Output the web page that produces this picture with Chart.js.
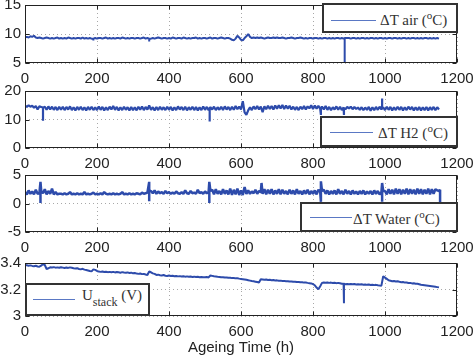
<!DOCTYPE html>
<html><head><meta charset="utf-8">
<script src="https://cdn.jsdelivr.net/npm/chart.js@4.4.0/dist/chart.umd.min.js"></script>
<style>
html,body{margin:0;padding:0;background:#fff;}
#wrap{position:relative;width:474px;height:355px;overflow:hidden;background:#fff;}
canvas{position:absolute;left:0;top:0;}
.leg{position:absolute;background:#fff;border:2px solid #333;box-sizing:border-box;font-family:"Liberation Serif","Times New Roman",serif;font-size:15px;color:#333;}
.leg .ln{position:absolute;height:1px;background:#5a78c4;}
.leg .tx{position:absolute;white-space:nowrap;line-height:15px;}
.leg sup{font-size:11px;vertical-align:0;position:relative;top:-6px;}
.leg sub{font-size:12px;vertical-align:0;position:relative;top:6px;}
</style></head>
<body><div id="wrap">
<canvas id="c1" width="474" height="355"></canvas>
<canvas id="c2" width="474" height="355"></canvas>
<canvas id="c3" width="474" height="355"></canvas>
<canvas id="c4" width="474" height="355"></canvas>
<div class="leg" style="left:322px;top:3px;width:136px;height:30px">
  <div class="ln" style="left:7px;top:15px;width:45px"></div>
  <div class="tx" style="left:56px;top:8px">ΔT air (<sup>o</sup>C)</div>
</div>
<div class="leg" style="left:320px;top:116px;width:138px;height:31px">
  <div class="ln" style="left:8px;top:14px;width:43px"></div>
  <div class="tx" style="left:56px;top:8px">ΔT H2 (<sup>o</sup>C)</div>
</div>
<div class="leg" style="left:300px;top:202px;width:158px;height:30px">
  <div class="ln" style="left:8px;top:13px;width:42px"></div>
  <div class="tx" style="left:51px;top:8px">ΔT Water (<sup>o</sup>C)</div>
</div>
<div class="leg" style="left:25px;top:283px;width:125px;height:33px">
  <div class="ln" style="left:6px;top:14px;width:42px"></div>
  <div class="tx" style="left:55px;top:3px">U<sub>stack</sub> (V)</div>
</div>
</div>
<script>
// sampling grid (hours), every 5 h from 0 to 1150
const hours = [];
for (let h = 0; h <= 1150; h += 5) hours.push(h);

const xTicks = [0, 200, 400, 600, 800, 1000, 1200];
const yTicksAir = [5, 10, 15];
const yTicksH2 = [0, 10, 20];
const yTicksWater = [-5, 0, 5];
const yTicksU = [3, 3.2, 3.4];

const dTair = [
9.4,9.5,9.4,9.6,9.5,9.7,9.4,9.3,9.4,9.3,9.2,9.3,9.4,9.3,9.2,9.3,9.2,9.3,9.4,9.2,
9.3,9.2,9.3,9.2,9.4,9.3,9.2,9.3,9.2,9.3,9.3,9.2,9.4,9.2,9.3,9.2,9.3,9.2,9.2,9.3,
9.2,9.3,9.3,9.2,9.3,9.4,9.2,9.3,9.2,9.3,9.2,9.3,9.3,9.2,9.4,9.3,9.2,9.3,9.2,9.3,
9.3,9.2,9.3,9.3,9.2,9.3,9.4,9.2,9.3,9.2,9.2,9.3,9.2,9.3,9.4,9.3,9.2,9.3,9.3,9.2,
9.3,9.2,9.4,9.3,9.2,9.3,9.3,9.2,9.4,9.3,9.2,9.3,9.2,9.3,9.3,9.4,9.2,9.3,9.2,9.3,
9.3,9.2,9.3,9.4,9.2,9.3,9.3,9.2,9.3,9.4,9.3,9.2,9.3,9.3,9.2,9.0,8.9,9.2,9.7,9.4,
9.0,8.9,9.3,9.6,10.0,9.5,9.3,9.4,9.3,9.4,9.3,9.4,9.3,9.2,9.3,9.4,9.3,9.3,9.4,9.3,
9.4,9.3,9.3,9.4,9.3,9.2,9.3,9.3,9.4,9.3,9.2,9.3,9.3,9.4,9.3,9.2,9.3,9.2,9.3,9.3,
9.2,9.3,9.3,9.2,9.3,9.2,9.3,9.3,9.2,9.3,9.2,9.3,9.2,9.3,9.3,9.2,9.3,9.2,9.3,9.3,
9.3,9.2,9.3,9.3,9.2,9.3,9.2,9.3,9.3,9.2,9.3,9.2,9.3,9.3,9.2,9.3,9.2,9.3,9.3,9.2,
9.3,9.2,9.3,9.3,9.2,9.3,9.3,9.2,9.3,9.2,9.3,9.3,9.2,9.3,9.2,9.3,9.3,9.2,9.3,9.2,
9.3,9.2,9.3,9.3,9.2,9.3,9.2,9.3,9.2,9.3,9.2];
// short excursions: [hour, level, extreme]
const spikesAir = [[190, 9.2, 8.9], [345, 9.2, 8.7], [888, 9.3, 5.0]];

const dTh2 = [
14.9,14.4,15.0,14.5,14.8,14.1,14.7,13.5,14.6,14.4,14.1,14.5,13.4,14.6,13.5,14.5,13.4,14.4,13.3,14.5,
13.4,14.5,13.3,14.4,13.5,14.6,13.3,14.3,13.2,14.4,13.4,14.5,13.3,14.3,13.2,14.4,13.4,14.5,13.3,14.3,
13.3,14.6,13.4,14.4,13.2,14.3,13.3,14.5,13.5,14.7,13.4,14.4,13.2,14.3,13.3,14.5,13.4,14.3,13.2,14.4,
13.3,14.3,13.2,14.5,13.4,14.6,13.3,14.4,13.5,14.9,13.4,14.3,13.2,14.4,13.3,14.5,13.4,14.3,13.3,14.5,
13.4,14.4,13.2,14.3,13.3,14.6,13.5,14.4,13.3,14.5,13.2,14.3,13.4,14.5,13.3,14.4,13.2,14.3,13.3,14.6,
13.4,14.4,13.3,14.3,13.5,14.5,13.3,14.3,13.4,14.5,13.3,14.6,13.5,14.4,13.3,14.5,13.4,14.7,13.6,14.5,
13.5,16.4,12.5,11.6,13.2,14.3,13.3,14.6,13.6,14.7,13.5,14.5,12.6,14.6,13.6,14.8,13.7,14.7,13.5,14.9,
13.8,15.0,13.9,15.1,13.7,14.9,13.8,14.8,13.5,14.5,13.4,14.4,13.3,14.5,13.6,14.7,13.5,14.6,13.9,15.0,
13.7,14.9,13.8,14.8,13.7,14.5,13.5,14.7,13.4,14.4,13.3,14.3,13.5,14.6,13.4,14.5,13.3,14.3,13.6,14.4,
13.9,14.5,13.6,14.4,13.7,14.2,13.4,14.3,13.3,14.2,13.4,14.4,13.1,14.3,13.3,14.4,13.4,14.5,13.5,14.3,
13.3,14.5,13.4,14.4,13.2,14.3,13.3,14.5,13.4,14.4,13.2,14.3,13.3,14.5,13.5,14.4,13.2,14.3,13.3,14.4,
13.2,14.3,13.3,14.4,13.2,14.3,13.4,14.4,13.3,14.3,13.5];
const spikesH2 = [[50, 14.2, 9.6], [513, 14.0, 9.3], [822, 14.1, 11.6], [886, 14.0, 11.6], [992, 13.9, 17.4]];

const dTwater = [
2.0,1.6,2.3,1.7,2.1,1.6,2.4,1.7,1.8,2.2,1.8,2.5,1.6,2.2,1.7,2.6,1.6,2.0,1.6,1.7,
1.7,1.6,1.8,1.6,1.7,2.0,1.6,1.7,1.6,1.8,1.6,1.7,1.6,2.0,1.6,1.7,1.6,1.7,1.9,1.6,
1.7,1.6,1.8,1.6,2.0,1.7,1.6,1.7,1.6,1.8,1.6,1.7,1.6,1.7,2.0,1.6,1.7,1.6,1.8,1.6,
1.7,1.6,1.8,1.7,1.6,1.9,1.7,1.8,1.9,2.1,2.2,1.8,2.3,1.7,2.1,1.8,2.0,1.7,2.2,1.8,
2.0,1.7,1.9,1.7,2.1,1.8,1.7,2.0,1.7,2.3,1.8,1.7,2.2,1.8,1.9,1.7,2.4,1.8,2.0,1.7,
2.1,1.8,2.0,2.2,2.4,1.6,2.5,1.7,2.2,1.6,2.5,1.7,2.3,1.6,2.6,1.5,2.4,1.6,2.6,1.5,
2.3,1.5,2.9,1.7,2.3,1.7,2.1,1.8,2.4,1.7,2.2,2.0,1.7,2.5,1.6,2.4,1.7,2.5,1.6,2.3,
1.7,2.5,1.6,2.4,1.7,2.2,1.6,2.4,1.7,2.3,1.6,2.5,1.7,2.2,1.6,2.3,1.7,2.4,1.6,2.2,
1.7,2.3,1.6,2.4,2.0,2.2,2.4,1.7,2.3,1.6,2.2,1.7,2.3,1.6,2.5,1.7,2.2,1.6,2.4,1.7,
2.2,1.6,2.3,1.7,2.1,1.6,2.2,1.7,2.3,1.6,2.1,1.7,2.2,1.6,2.3,1.7,2.2,1.6,2.0,2.2,
2.2,1.6,2.5,1.7,2.4,1.6,2.6,1.7,2.5,1.6,2.4,1.7,2.6,1.6,2.5,1.7,2.4,1.6,2.6,1.7,
2.5,1.6,2.4,1.7,2.6,1.6,2.5,1.7,2.5,2.3,2.2];
const spikesWater = [[43, 3.8, 0.1], [345, 3.8, 0.4], [512, 3.8, 0.1], [657, 3.6, 1.8],
                     [822, 3.9, 0.3], [992, 3.6, 0.3], [1153, 2.4, 0.0]];

const uStack = [
3.385,3.383,3.380,3.382,3.378,3.376,3.379,3.374,3.372,3.380,3.392,3.385,3.355,3.360,3.368,3.366,3.369,3.365,3.367,3.364,
3.368,3.365,3.362,3.366,3.363,3.367,3.364,3.360,3.358,3.361,3.355,3.352,3.356,3.350,3.347,3.344,3.340,3.337,3.352,3.348,
3.340,3.335,3.333,3.336,3.332,3.334,3.331,3.333,3.330,3.333,3.329,3.332,3.330,3.327,3.331,3.328,3.326,3.329,3.325,3.327,
3.322,3.324,3.320,3.318,3.321,3.316,3.318,3.313,3.309,3.336,3.330,3.322,3.318,3.310,3.312,3.308,3.306,3.309,3.304,3.302,
3.305,3.302,3.304,3.300,3.302,3.299,3.301,3.298,3.300,3.297,3.299,3.296,3.298,3.295,3.297,3.294,3.296,3.293,3.295,3.293,
3.292,3.294,3.291,3.306,3.303,3.300,3.298,3.296,3.295,3.292,3.293,3.290,3.291,3.288,3.289,3.286,3.287,3.284,3.285,3.282,
3.280,3.278,3.276,3.273,3.270,3.267,3.264,3.262,3.259,3.256,3.253,3.278,3.276,3.274,3.275,3.272,3.273,3.270,3.271,3.268,
3.269,3.266,3.267,3.264,3.265,3.262,3.263,3.260,3.261,3.258,3.259,3.256,3.257,3.254,3.255,3.252,3.253,3.250,3.248,3.246,
3.240,3.232,3.215,3.201,3.225,3.250,3.252,3.251,3.253,3.250,3.252,3.249,3.251,3.248,3.250,3.247,3.244,3.243,3.240,3.242,
3.240,3.242,3.239,3.241,3.238,3.240,3.237,3.239,3.236,3.238,3.235,3.237,3.234,3.236,3.233,3.235,3.232,3.230,3.229,3.300,
3.290,3.280,3.270,3.266,3.262,3.264,3.260,3.262,3.258,3.255,3.256,3.252,3.253,3.249,3.250,3.246,3.247,3.243,3.244,3.240,
3.236,3.234,3.232,3.230,3.228,3.226,3.224,3.222,3.220,3.218,3.216];
const spikesU = [[886, 3.243, 3.096]];

const LINE = '#2d4bab';
const GRID = '#a8a8a8';
const TXT = '#222';
const FONT = {family: '"Liberation Sans", Arial, sans-serif', size: 15};
const W = 474, H = 355, RIGHT = 457, YW = 25, AXH = 25;

function buildPoints(values, spikes) {
  const pts = [];
  let s = 0;
  hours.forEach((h, i) => {
    while (s < spikes.length && spikes[s][0] <= h) {
      const [sh, lvl, ext] = spikes[s];
      pts.push({x: sh, y: lvl}, {x: sh, y: ext}, {x: sh, y: lvl});
      s++;
    }
    pts.push({x: h, y: values[i]});
  });
  while (s < spikes.length) {
    const [sh, lvl, ext] = spikes[s];
    pts.push({x: sh, y: lvl}, {x: sh, y: ext});
    s++;
  }
  return pts;
}

const boxPlugin = {
  id: 'box',
  afterDatasetsDraw(chart) {
    const {ctx, chartArea: a, scales: {x, y}} = chart;
    const l = Math.round(a.left) + 0.5, t = Math.round(a.top) + 0.5;
    const r = Math.round(a.right) - 0.5, b = Math.round(a.bottom) - 0.5;
    ctx.save();
    ctx.strokeStyle = '#222';
    ctx.lineWidth = 1;
    ctx.strokeRect(l, t, r - l, b - t);
    ctx.beginPath();
    const L = 4;
    x.ticks.forEach(tk => {
      const px = Math.round(x.getPixelForValue(tk.value)) + 0.5;
      ctx.moveTo(px, b); ctx.lineTo(px, b - L);
      ctx.moveTo(px, t); ctx.lineTo(px, t + L);
    });
    y.ticks.forEach(tk => {
      const py = Math.round(y.getPixelForValue(tk.value)) + 0.5;
      ctx.moveTo(l, py); ctx.lineTo(l + L, py);
      ctx.moveTo(r, py); ctx.lineTo(r - L, py);
    });
    ctx.stroke();
    ctx.restore();
  }
};

function makeChart(id, values, spikes, yTicks, top, bottom, withTitle, lw) {
  const data = buildPoints(values, spikes);
  const axisH = withTitle ? H - bottom : AXH;
  return new Chart(document.getElementById(id), {
    type: 'line',
    data: {datasets: [{data, borderColor: LINE, borderWidth: lw, pointRadius: 0, tension: 0, fill: false,
                       borderJoinStyle: 'bevel'}]},
    options: {
      responsive: false, animation: false, events: [], parsing: false,
      plugins: {legend: {display: false}, tooltip: {enabled: false}},
      layout: {padding: {top: top, left: 0, right: W - RIGHT, bottom: H - bottom - axisH}},
      scales: {
        x: {
          type: 'linear', min: xTicks[0], max: xTicks[xTicks.length - 1],
          afterBuildTicks: s => { s.ticks = xTicks.map(v => ({value: v})); },
          ticks: {padding: 7, font: FONT, color: TXT, maxRotation: 0, autoSkip: false,
                  callback: v => String(v)},
          grid: {color: GRID, drawTicks: false, lineWidth: 1},
          border: {display: false, dash: [1, 3]},
          title: {display: withTitle, text: 'Ageing Time (h)', color: TXT,
                  font: {family: FONT.family, size: 15, lineHeight: 1}, padding: 0},
          afterFit: s => { s.height = axisH; s.paddingLeft = 0; s.paddingRight = 0; }
        },
        y: {
          type: 'linear', min: yTicks[0], max: yTicks[yTicks.length - 1],
          afterBuildTicks: s => { s.ticks = yTicks.map(v => ({value: v})); },
          ticks: {padding: 4, font: FONT, color: TXT, callback: v => String(Math.round(v * 10) / 10)},
          grid: {color: GRID, drawTicks: false, lineWidth: 1},
          border: {display: false, dash: [1, 3]},
          afterFit: s => { s.width = YW; s.paddingTop = 0; s.paddingBottom = 0; }
        }
      }
    },
    plugins: [boxPlugin]
  });
}

makeChart('c1', dTair, spikesAir, yTicksAir, 5, 63, false, 2);
makeChart('c2', dTh2, spikesH2, yTicksH2, 91, 148, false, 2.2);
makeChart('c3', dTwater, spikesWater, yTicksWater, 175, 232, false, 2.5);
makeChart('c4', uStack, spikesU, yTicksU, 263, 316, true, 2);
</script>
</body></html>
